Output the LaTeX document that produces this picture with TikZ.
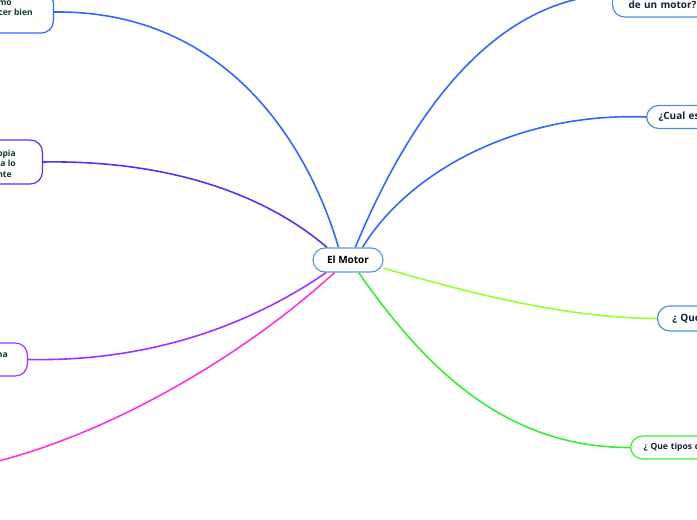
\documentclass[tikz,border=0pt]{standalone}
\usepackage{fontspec}
\setmainfont{Open Sans}
\usepackage{xcolor}
\definecolor{hubline}{HTML}{5B9BD5}
\definecolor{bluebranch}{HTML}{3366FF}
\definecolor{indigobranch}{HTML}{5533EE}
\definecolor{violetbranch}{HTML}{A033FF}
\definecolor{pinkbranch}{HTML}{FF33DD}
\definecolor{limebranch}{HTML}{99FF33}
\definecolor{greenbranch}{HTML}{33F033}
\definecolor{boxblue}{HTML}{4A90D9}
\definecolor{navytext}{HTML}{14213D}
\definecolor{leaftext}{HTML}{0D3B2E}

\begin{document}
\begin{tikzpicture}[x=0.75pt, y=-0.75pt,
    topic/.style={draw, fill=white, rounded corners=9pt, line width=0.9pt,
        font=\bfseries\fontsize{7.5}{9}\selectfont, text=navytext},
    leaftxt/.style={font=\bfseries\fontsize{6.4}{7.8}\selectfont, text=leaftext,
        align=right, inner sep=0pt},
    branch/.style={line width=1.2pt}]
    \useasboundingbox (0,0) rectangle (697,520);

    % central topic
    \node[topic, draw=hubline, text=black, minimum width=52.5pt, minimum height=18pt,
        inner sep=0pt] (motor) at (348,260) {El Motor};

    % left side, boxes cut by the page edge
    \node[topic, draw=bluebranch, anchor=east, minimum width=120pt, minimum height=31.5pt] (saber) at (54,12) {};
    \node[leaftxt, anchor=east] (sabertxt) at (33,8) {mo\hspace*{15.75pt}\\cer bien};
    \node[topic, draw=indigobranch, anchor=east, minimum width=120pt, minimum height=33pt] (copia) at (43,162) {};
    \node[leaftxt, anchor=east] (copiatxt) at (16,163.5) {opia\\a lo\hspace*{4.5pt}\\nte\hspace*{3pt}};
    \node[topic, draw=violetbranch, anchor=east, minimum width=120pt, minimum height=24.75pt] (norma) at (28,359.5) {};
    \node[leaftxt, anchor=east] (normatxt) at (8,355) {na};
    \coordinate (pinkend) at (-5,462);

    % right side
    \node[topic, draw=boxblue, anchor=base west, text height=24pt, text depth=2pt,
        inner ysep=4pt, inner xsep=12pt, text width=90pt, align=left] (quees) at (612,9) {de un motor?};
    \node[topic, draw=boxblue, anchor=west, minimum height=17.25pt, inner xsep=9pt,
        text width=90pt, align=left] (cual) at (646,117) {¿Cual es};
    \node[topic, draw=boxblue, anchor=west, minimum height=18.75pt, inner xsep=11pt,
        text width=90pt, align=left] (que) at (657,318.5) {¿ Que};
    \node[topic, draw=greenbranch, anchor=west, minimum height=17.25pt, inner xsep=9.75pt,
        text width=90pt, align=left, font=\bfseries\fontsize{6.4}{8}\selectfont] (tipos) at (630,447.5) {¿ Que tipos de};

    % branches
    \draw[branch, bluebranch] (saber.east) .. controls (230,10) and (310,150) .. (motor.127);
    \draw[branch, indigobranch] (copia.east) .. controls (160,160) and (260,190) .. (motor.149);
    \draw[branch, violetbranch] (norma.east) .. controls (150,362) and (250,325) .. (motor.210);
    \draw[branch, pinkbranch] (pinkend) .. controls (120,430) and (250,350) .. (motor.223);
    \draw[branch, bluebranch] (quees.west) .. controls (480,0) and (400,140) .. (motor.60);
    \draw[branch, bluebranch] (cual.west) .. controls (520,112) and (410,170) .. (motor.41);
    \draw[branch, limebranch] (motor.347) .. controls (460,290) and (560,318) .. (que.west);
    \draw[branch, greenbranch] (motor.310) .. controls (420,360) and (500,448) .. (tipos.west);
\end{tikzpicture}
\end{document}
